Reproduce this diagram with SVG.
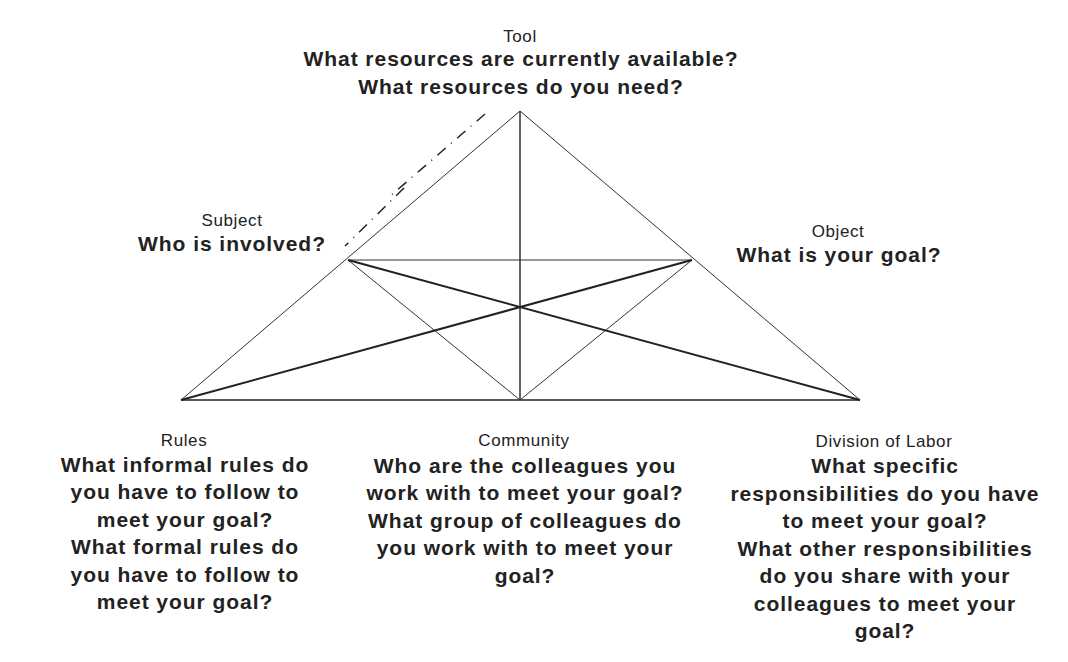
<svg xmlns="http://www.w3.org/2000/svg" width="1068" height="662" viewBox="0 0 1068 662">
<style>
.lbl{font-family:"Liberation Sans",Arial,sans-serif;font-size:17px;letter-spacing:0.6px;fill:#222;text-anchor:middle}
.q{font-family:"Liberation Sans",Arial,sans-serif;font-size:21px;letter-spacing:0.95px;font-weight:bold;fill:#222;text-anchor:middle}
.thin{stroke:#333;stroke-width:1;fill:none}
.med{stroke:#222;stroke-width:1.4;fill:none}
.thick{stroke:#222;stroke-width:2;fill:none}
.dd{stroke:#222;stroke-width:1.5;fill:none;stroke-dasharray:11 7 1 7}
</style>
<rect width="1068" height="662" fill="#fff"/>
<g id="connectors">
<line class="thin" x1="520" y1="111" x2="181" y2="400"/>
<line class="thin" x1="520" y1="111" x2="860" y2="400"/>
<line class="med" x1="181" y1="400" x2="860" y2="400"/>
<line class="med" x1="520" y1="111" x2="520" y2="400"/>
<line class="thin" x1="348" y1="260" x2="692" y2="260" stroke="#555"/>
<line class="thin" x1="348" y1="260" x2="520" y2="400"/>
<line class="thin" x1="692" y1="260" x2="520" y2="400"/>
<line class="thick" x1="348" y1="260" x2="860" y2="400"/>
<line class="thick" x1="692" y1="260" x2="181" y2="400"/>
<line class="dd" x1="485" y1="114" x2="388" y2="198"/>
<line class="dd" x1="404" y1="188" x2="345" y2="246"/>
</g>
<g id="tool">
<text class="lbl" x="520" y="42">Tool</text>
<text class="q" x="521" y="66">What resources are currently available?</text>
<text class="q" x="521" y="94">What resources do you need?</text>
</g>
<g id="subject">
<text class="lbl" x="232" y="226">Subject</text>
<text class="q" x="232" y="251">Who is involved?</text>
</g>
<g id="object">
<text class="lbl" x="838" y="237">Object</text>
<text class="q" x="839" y="262">What is your goal?</text>
</g>
<g id="rules">
<text class="lbl" x="184" y="446">Rules</text>
<text class="q" x="185" y="472">What informal rules do</text>
<text class="q" x="185" y="499">you have to follow to</text>
<text class="q" x="185" y="527">meet your goal?</text>
<text class="q" x="185" y="554">What formal rules do</text>
<text class="q" x="185" y="582">you have to follow to</text>
<text class="q" x="185" y="609">meet your goal?</text>
</g>
<g id="community">
<text class="lbl" x="524" y="446">Community</text>
<text class="q" x="525" y="473">Who are the colleagues you</text>
<text class="q" x="525" y="500">work with to meet your goal?</text>
<text class="q" x="525" y="528">What group of colleagues do</text>
<text class="q" x="525" y="555">you work with to meet your</text>
<text class="q" x="525" y="583">goal?</text>
</g>
<g id="division">
<text class="lbl" x="884" y="447">Division of Labor</text>
<text class="q" x="885" y="473">What specific</text>
<text class="q" x="885" y="501">responsibilities do you have</text>
<text class="q" x="885" y="528">to meet your goal?</text>
<text class="q" x="885" y="556">What other responsibilities</text>
<text class="q" x="885" y="583">do you share with your</text>
<text class="q" x="885" y="611">colleagues to meet your</text>
<text class="q" x="885" y="638">goal?</text>
</g>
</svg>
